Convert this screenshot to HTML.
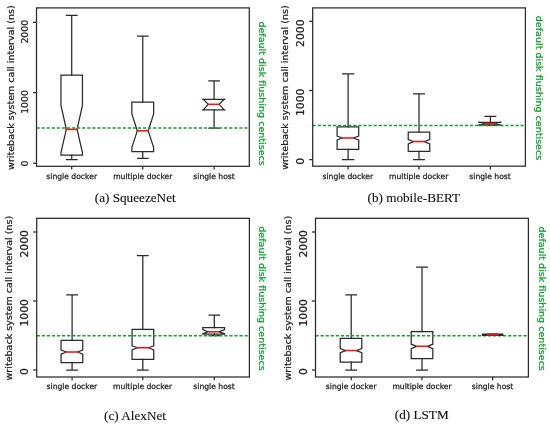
<!DOCTYPE html>
<html lang="en"><head><meta charset="utf-8"><title>Writeback system call interval boxplots</title>
<style>
html,body{margin:0;padding:0;background:#fff;}
body{width:550px;height:426px;overflow:hidden;}
svg{display:block;filter:blur(0.3px);}
text{font-family:"DejaVu Sans","Liberation Sans",sans-serif;fill:#222;stroke:#222;stroke-width:0.25px;font-variant-ligatures:none;}
.xt{font-size:7.64px;}

.yl{font-size:9.55px;}
.gl{font-size:9.55px;fill:#0ba22a;stroke:#0ba22a;stroke-width:0.25px;}
.cap{font-family:"Liberation Serif","Times New Roman",serif;font-size:13.2px;fill:#111;stroke:#111;stroke-width:0.12px;}
</style></head>
<body>
<svg width="550" height="426" viewBox="0 0 550 426">
<rect width="550" height="426" fill="#fff"/>
<path d="M60.95 155.07 L82.45 155.07 L82.45 152.54 L77.08 129.36 L82.45 105.34 L82.45 75.20 L60.95 75.20 L60.95 105.34 L66.33 129.36 L60.95 152.54 L60.95 155.07Z" fill="none" stroke="#2a2a2a" stroke-width="1.25" stroke-linejoin="miter" stroke-miterlimit="2"/>
<path d="M71.70 75.20V15.28M66.40 15.28H77.00M71.70 155.07V159.71M66.40 159.71H77.00" fill="none" stroke="#2a2a2a" stroke-width="1.25" stroke-linecap="square"/>
<line x1="66.33" y1="129.36" x2="77.08" y2="129.36" stroke="#f01818" stroke-width="1.6" stroke-linecap="square"/>
<path d="M131.85 151.70 L153.65 151.70 L153.65 147.63 L148.20 130.84 L153.65 113.91 L153.65 102.10 L131.85 102.10 L131.85 113.91 L137.30 130.84 L131.85 147.63 L131.85 151.70Z" fill="none" stroke="#2a2a2a" stroke-width="1.25" stroke-linejoin="miter" stroke-miterlimit="2"/>
<path d="M142.75 102.10V36.21M137.55 36.21H147.95M142.75 151.70V158.30M137.55 158.30H147.95" fill="none" stroke="#2a2a2a" stroke-width="1.25" stroke-linecap="square"/>
<line x1="137.30" y1="130.84" x2="148.20" y2="130.84" stroke="#f01818" stroke-width="1.6" stroke-linecap="square"/>
<path d="M202.75 109.90 L224.65 109.90 L224.65 110.39 L219.17 104.35 L224.65 98.73 L224.65 99.29 L202.75 99.29 L202.75 98.73 L208.22 104.35 L202.75 110.39 L202.75 109.90Z" fill="none" stroke="#2a2a2a" stroke-width="1.25" stroke-linejoin="miter" stroke-miterlimit="2"/>
<path d="M214.10 99.29V80.89M208.90 80.89H219.30M214.10 109.90V128.17M208.90 128.17H219.30" fill="none" stroke="#2a2a2a" stroke-width="1.25" stroke-linecap="square"/>
<line x1="208.22" y1="104.35" x2="219.17" y2="104.35" stroke="#f01818" stroke-width="1.6" stroke-linecap="square"/>
<line x1="36.50" y1="128.00" x2="248.10" y2="128.00" stroke="#0fa130" stroke-width="1.5" stroke-dasharray="3.2 1.87"/>
<rect x="36.50" y="7.90" width="212.80" height="158.40" fill="none" stroke="#2a2a2a" stroke-width="1.25"/>
<line x1="33.00" y1="163.20" x2="36.50" y2="163.20" stroke="#2a2a2a" stroke-width="1.25"/>
<text class="yt" font-size="9.4" text-anchor="end" transform="translate(27.80 160.60) rotate(-90)">0</text>
<line x1="33.00" y1="92.60" x2="36.50" y2="92.60" stroke="#2a2a2a" stroke-width="1.25"/>
<text class="yt" font-size="9.4" text-anchor="end" transform="translate(27.80 90.00) rotate(-90)">1000</text>
<line x1="33.00" y1="22.35" x2="36.50" y2="22.35" stroke="#2a2a2a" stroke-width="1.25"/>
<text class="yt" font-size="9.4" text-anchor="end" transform="translate(27.80 19.75) rotate(-90)">2000</text>
<line x1="71.70" y1="166.30" x2="71.70" y2="169.60" stroke="#2a2a2a" stroke-width="1.25"/>
<text class="xt" text-anchor="middle" x="71.70" y="179.10">single docker</text>
<line x1="142.75" y1="166.30" x2="142.75" y2="169.60" stroke="#2a2a2a" stroke-width="1.25"/>
<text class="xt" text-anchor="middle" x="142.75" y="179.10">multiple docker</text>
<line x1="214.10" y1="166.30" x2="214.10" y2="169.60" stroke="#2a2a2a" stroke-width="1.25"/>
<text class="xt" text-anchor="middle" x="214.10" y="179.10">single host</text>
<text class="yl" text-anchor="middle" transform="translate(13.70 87.60) rotate(-90)">writeback system call interval (ns)</text>
<text class="gl" text-anchor="middle" transform="translate(259.10 93.60) rotate(90)">default disk flushing centisecs</text>
<text class="cap" text-anchor="middle" x="135.20" y="202.20">(a) SqueezeNet</text>
<path d="M337.10 149.45 L358.70 149.45 L358.70 140.00 L353.30 138.00 L358.70 136.00 L358.70 126.90 L337.10 126.90 L337.10 136.00 L342.50 138.00 L337.10 140.00 L337.10 149.45Z" fill="none" stroke="#2a2a2a" stroke-width="1.25" stroke-linejoin="miter" stroke-miterlimit="2"/>
<path d="M348.10 126.90V73.90M342.50 73.90H353.70M348.10 149.45V159.60M342.50 159.60H353.70" fill="none" stroke="#2a2a2a" stroke-width="1.25" stroke-linecap="square"/>
<line x1="342.50" y1="138.00" x2="353.30" y2="138.00" stroke="#f01818" stroke-width="1.6" stroke-linecap="square"/>
<path d="M408.25 151.30 L429.75 151.30 L429.75 143.80 L424.38 141.55 L429.75 139.60 L429.75 132.10 L408.25 132.10 L408.25 139.60 L413.62 141.55 L408.25 143.80 L408.25 151.30Z" fill="none" stroke="#2a2a2a" stroke-width="1.25" stroke-linejoin="miter" stroke-miterlimit="2"/>
<path d="M419.00 132.10V93.80M413.60 93.80H424.40M419.00 151.30V159.60M413.60 159.60H424.40" fill="none" stroke="#2a2a2a" stroke-width="1.25" stroke-linecap="square"/>
<line x1="413.62" y1="141.55" x2="424.38" y2="141.55" stroke="#f01818" stroke-width="1.6" stroke-linecap="square"/>
<path d="M478.90 124.90 L500.70 124.90 L500.70 125.30 L495.25 123.60 L500.70 122.00 L500.70 122.35 L478.90 122.35 L478.90 122.00 L484.35 123.60 L478.90 125.30 L478.90 124.90Z" fill="none" stroke="#2a2a2a" stroke-width="1.25" stroke-linejoin="miter" stroke-miterlimit="2"/>
<path d="M490.40 122.35V116.30M485.10 116.30H495.70M490.40 124.90V125.30M485.10 125.30H495.70" fill="none" stroke="#2a2a2a" stroke-width="1.25" stroke-linecap="square"/>
<line x1="484.35" y1="123.60" x2="495.25" y2="123.60" stroke="#f01818" stroke-width="1.6" stroke-linecap="square"/>
<line x1="312.70" y1="125.40" x2="524.20" y2="125.40" stroke="#0fa130" stroke-width="1.5" stroke-dasharray="3.2 1.87"/>
<rect x="312.70" y="7.90" width="212.70" height="158.30" fill="none" stroke="#2a2a2a" stroke-width="1.25"/>
<line x1="309.20" y1="159.65" x2="312.70" y2="159.65" stroke="#2a2a2a" stroke-width="1.25"/>
<text class="yt" font-size="10.8" text-anchor="end" transform="translate(303.70 157.75) rotate(-90)">0</text>
<line x1="309.20" y1="90.50" x2="312.70" y2="90.50" stroke="#2a2a2a" stroke-width="1.25"/>
<text class="yt" font-size="10.8" text-anchor="end" transform="translate(303.70 88.60) rotate(-90)">1000</text>
<line x1="309.20" y1="21.30" x2="312.70" y2="21.30" stroke="#2a2a2a" stroke-width="1.25"/>
<text class="yt" font-size="10.8" text-anchor="end" transform="translate(303.70 19.40) rotate(-90)">2000</text>
<line x1="348.10" y1="166.20" x2="348.10" y2="169.50" stroke="#2a2a2a" stroke-width="1.25"/>
<text class="xt" text-anchor="middle" x="347.80" y="179.10">single docker</text>
<line x1="419.00" y1="166.20" x2="419.00" y2="169.50" stroke="#2a2a2a" stroke-width="1.25"/>
<text class="xt" text-anchor="middle" x="418.70" y="179.10">multiple docker</text>
<line x1="490.40" y1="166.20" x2="490.40" y2="169.50" stroke="#2a2a2a" stroke-width="1.25"/>
<text class="xt" text-anchor="middle" x="490.10" y="179.10">single host</text>
<text class="yl" text-anchor="middle" transform="translate(288.20 87.55) rotate(-90)">writeback system call interval (ns)</text>
<text class="gl" text-anchor="middle" transform="translate(535.75 88.00) rotate(90)">default disk flushing centisecs</text>
<text class="cap" text-anchor="middle" x="413.80" y="202.30">(b) mobile-BERT</text>
<path d="M61.05 362.70 L82.75 362.70 L82.75 354.20 L77.33 352.00 L82.75 350.00 L82.75 340.40 L61.05 340.40 L61.05 350.00 L66.48 352.00 L61.05 354.20 L61.05 362.70Z" fill="none" stroke="#2a2a2a" stroke-width="1.25" stroke-linejoin="miter" stroke-miterlimit="2"/>
<path d="M72.10 340.40V294.90M66.80 294.90H77.40M72.10 362.70V370.00M66.80 370.00H77.40" fill="none" stroke="#2a2a2a" stroke-width="1.25" stroke-linecap="square"/>
<line x1="66.48" y1="352.00" x2="77.33" y2="352.00" stroke="#f01818" stroke-width="1.6" stroke-linecap="square"/>
<path d="M132.05 359.40 L153.75 359.40 L153.75 350.00 L148.33 347.75 L153.75 345.80 L153.75 329.40 L132.05 329.40 L132.05 345.80 L137.47 347.75 L132.05 350.00 L132.05 359.40Z" fill="none" stroke="#2a2a2a" stroke-width="1.25" stroke-linejoin="miter" stroke-miterlimit="2"/>
<path d="M142.80 329.40V255.70M137.50 255.70H148.10M142.80 359.40V370.00M137.50 370.00H148.10" fill="none" stroke="#2a2a2a" stroke-width="1.25" stroke-linecap="square"/>
<line x1="137.47" y1="347.75" x2="148.33" y2="347.75" stroke="#f01818" stroke-width="1.6" stroke-linecap="square"/>
<path d="M202.80 334.00 L224.60 334.00 L224.60 333.60 L219.15 331.80 L224.60 329.60 L224.60 327.70 L202.80 327.70 L202.80 329.60 L208.25 331.80 L202.80 333.60 L202.80 334.00Z" fill="none" stroke="#2a2a2a" stroke-width="1.25" stroke-linejoin="miter" stroke-miterlimit="2"/>
<path d="M214.30 327.70V315.00M209.10 315.00H219.50M214.30 334.00V335.60M209.10 335.60H219.50" fill="none" stroke="#2a2a2a" stroke-width="1.25" stroke-linecap="square"/>
<line x1="208.25" y1="331.80" x2="219.15" y2="331.80" stroke="#f01818" stroke-width="1.6" stroke-linecap="square"/>
<line x1="36.70" y1="335.85" x2="248.20" y2="335.85" stroke="#0fa130" stroke-width="1.5" stroke-dasharray="3.2 1.87"/>
<rect x="36.70" y="218.30" width="212.70" height="158.70" fill="none" stroke="#2a2a2a" stroke-width="1.25"/>
<line x1="33.20" y1="370.00" x2="36.70" y2="370.00" stroke="#2a2a2a" stroke-width="1.25"/>
<text class="yt" font-size="10.8" text-anchor="end" transform="translate(27.70 368.10) rotate(-90)">0</text>
<line x1="33.20" y1="301.00" x2="36.70" y2="301.00" stroke="#2a2a2a" stroke-width="1.25"/>
<text class="yt" font-size="10.8" text-anchor="end" transform="translate(27.70 299.10) rotate(-90)">1000</text>
<line x1="33.20" y1="232.00" x2="36.70" y2="232.00" stroke="#2a2a2a" stroke-width="1.25"/>
<text class="yt" font-size="10.8" text-anchor="end" transform="translate(27.70 230.10) rotate(-90)">2000</text>
<line x1="72.10" y1="377.00" x2="72.10" y2="380.30" stroke="#2a2a2a" stroke-width="1.25"/>
<text class="xt" text-anchor="middle" x="71.90" y="389.30">single docker</text>
<line x1="142.80" y1="377.00" x2="142.80" y2="380.30" stroke="#2a2a2a" stroke-width="1.25"/>
<text class="xt" text-anchor="middle" x="142.60" y="389.30">multiple docker</text>
<line x1="214.30" y1="377.00" x2="214.30" y2="380.30" stroke="#2a2a2a" stroke-width="1.25"/>
<text class="xt" text-anchor="middle" x="214.10" y="389.30">single host</text>
<text class="yl" text-anchor="middle" transform="translate(12.40 298.15) rotate(-90)">writeback system call interval (ns)</text>
<text class="gl" text-anchor="middle" transform="translate(259.40 298.50) rotate(90)">default disk flushing centisecs</text>
<text class="cap" text-anchor="middle" x="135.00" y="419.70">(c) AlexNet</text>
<path d="M340.20 362.00 L361.80 362.00 L361.80 352.70 L356.40 350.55 L361.80 348.60 L361.80 338.30 L340.20 338.30 L340.20 348.60 L345.60 350.55 L340.20 352.70 L340.20 362.00Z" fill="none" stroke="#2a2a2a" stroke-width="1.25" stroke-linejoin="miter" stroke-miterlimit="2"/>
<path d="M351.20 338.30V294.90M345.90 294.90H356.50M351.20 362.00V370.00M345.90 370.00H356.50" fill="none" stroke="#2a2a2a" stroke-width="1.25" stroke-linecap="square"/>
<line x1="345.60" y1="350.55" x2="356.40" y2="350.55" stroke="#f01818" stroke-width="1.6" stroke-linecap="square"/>
<path d="M411.20 358.70 L432.80 358.70 L432.80 348.60 L427.40 346.30 L432.80 344.20 L432.80 331.70 L411.20 331.70 L411.20 344.20 L416.60 346.30 L411.20 348.60 L411.20 358.70Z" fill="none" stroke="#2a2a2a" stroke-width="1.25" stroke-linejoin="miter" stroke-miterlimit="2"/>
<path d="M422.00 331.70V267.00M416.70 267.00H427.30M422.00 358.70V370.00M416.70 370.00H427.30" fill="none" stroke="#2a2a2a" stroke-width="1.25" stroke-linecap="square"/>
<line x1="416.60" y1="346.30" x2="427.40" y2="346.30" stroke="#f01818" stroke-width="1.6" stroke-linecap="square"/>
<line x1="315.50" y1="335.85" x2="527.20" y2="335.85" stroke="#0fa130" stroke-width="1.5" stroke-dasharray="3.2 1.87"/>
<path d="M482.40 335.40 L502.80 335.40 L502.80 335.10 L497.70 334.70 L502.80 334.30 L502.80 334.00 L482.40 334.00 L482.40 334.30 L487.50 334.70 L482.40 335.10 L482.40 335.40Z" fill="none" stroke="#2a2a2a" stroke-width="1.25" stroke-linejoin="miter" stroke-miterlimit="2"/>
<path d="M492.60 334.00V334.00M487.60 334.00H497.60M492.60 335.40V335.40M487.60 335.40H497.60" fill="none" stroke="#2a2a2a" stroke-width="1.25" stroke-linecap="square"/>
<line x1="487.50" y1="334.70" x2="497.70" y2="334.70" stroke="#f01818" stroke-width="1.6" stroke-linecap="square"/>
<rect x="315.50" y="218.30" width="212.90" height="158.70" fill="none" stroke="#2a2a2a" stroke-width="1.25"/>
<line x1="312.00" y1="370.00" x2="315.50" y2="370.00" stroke="#2a2a2a" stroke-width="1.25"/>
<text class="yt" font-size="10.8" text-anchor="end" transform="translate(306.50 368.10) rotate(-90)">0</text>
<line x1="312.00" y1="301.00" x2="315.50" y2="301.00" stroke="#2a2a2a" stroke-width="1.25"/>
<text class="yt" font-size="10.8" text-anchor="end" transform="translate(306.50 299.10) rotate(-90)">1000</text>
<line x1="312.00" y1="232.00" x2="315.50" y2="232.00" stroke="#2a2a2a" stroke-width="1.25"/>
<text class="yt" font-size="10.8" text-anchor="end" transform="translate(306.50 230.10) rotate(-90)">2000</text>
<line x1="351.20" y1="377.00" x2="351.20" y2="380.30" stroke="#2a2a2a" stroke-width="1.25"/>
<text class="xt" text-anchor="middle" x="351.20" y="389.20">single docker</text>
<line x1="422.00" y1="377.00" x2="422.00" y2="380.30" stroke="#2a2a2a" stroke-width="1.25"/>
<text class="xt" text-anchor="middle" x="422.00" y="389.20">multiple docker</text>
<line x1="492.60" y1="377.00" x2="492.60" y2="380.30" stroke="#2a2a2a" stroke-width="1.25"/>
<text class="xt" text-anchor="middle" x="492.60" y="389.20">single host</text>
<text class="yl" text-anchor="middle" transform="translate(291.20 298.15) rotate(-90)">writeback system call interval (ns)</text>
<text class="gl" text-anchor="middle" transform="translate(538.75 298.65) rotate(90)">default disk flushing centisecs</text>
<text class="cap" text-anchor="middle" x="421.70" y="419.40">(d) LSTM</text>
</svg>
</body></html>
